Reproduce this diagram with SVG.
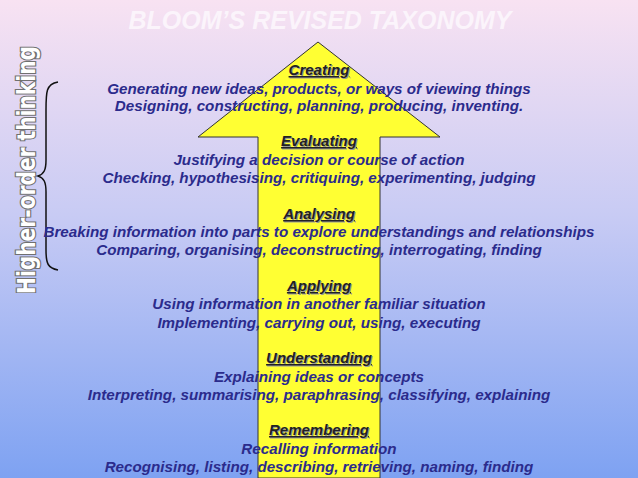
<svg xmlns="http://www.w3.org/2000/svg" width="638" height="478" viewBox="0 0 638 478">
<defs>
<linearGradient id="bg" x1="0" y1="0" x2="0" y2="1">
<stop offset="0" stop-color="#f8e2f2"/>
<stop offset="0.45" stop-color="#c8cbf4"/>
<stop offset="1" stop-color="#7ea2f2"/>
</linearGradient>
<style>
.t{font-family:"Liberation Sans",Arial,sans-serif;font-weight:bold;font-style:italic;font-size:15.2px;fill:#2b2b8c;text-anchor:middle}
.h{font-family:"Liberation Sans",Arial,sans-serif;font-weight:bold;font-style:italic;font-size:15px;fill:#222;text-anchor:middle;text-decoration:underline}
.hs{font-family:"Liberation Sans",Arial,sans-serif;font-weight:bold;font-style:italic;font-size:15px;fill:#9a9a9a;text-anchor:middle;text-decoration:underline}
</style>
</defs>
<rect width="638" height="478" fill="url(#bg)"/>
<text x="320" y="29" font-family="Liberation Sans,Arial,sans-serif" font-weight="bold" font-style="italic" font-size="25" fill="#fbf4fb" text-anchor="middle">BLOOM’S REVISED TAXONOMY</text>
<g id="arrow"><polygon points="318,42 440,137 380,137 380,478 258,478 258,137 198,137" fill="#ffff33" stroke="#333" stroke-width="1"/></g>
<g id="side">
<text transform="translate(35,170) rotate(-90)" font-family="DejaVu Sans,sans-serif" font-weight="bold" font-size="25" fill="#fff" stroke="#707070" stroke-width="2.4" paint-order="stroke" text-anchor="middle" textLength="248" lengthAdjust="spacingAndGlyphs">Higher-order thinking</text>
</g>
<g id="connectors"><path d="M58,82 C46,84 46,92 46,110 L46,160 C46,170 44,174 38,176 C44,178 46,182 46,192 L46,250 C46,264 48,268 58,270" fill="none" stroke="#111" stroke-width="1.5"/></g>
<g id="creating"><text class="hs" x="320" y="76">Creating</text><text class="h" x="319" y="75">Creating</text>
<text class="t" x="319" y="94">Generating new ideas, products, or ways of viewing things</text>
<text class="t" x="319" y="111">Designing, constructing, planning, producing, inventing.</text></g>
<g id="evaluating"><text class="hs" x="320" y="147">Evaluating</text><text class="h" x="319" y="146">Evaluating</text>
<text class="t" x="319" y="165">Justifying a decision or course of action</text>
<text class="t" x="319" y="183">Checking, hypothesising, critiquing, experimenting, judging</text></g>
<g id="analysing"><text class="hs" x="320" y="220">Analysing</text><text class="h" x="319" y="219">Analysing</text>
<text class="t" x="319" y="237">Breaking information into parts to explore understandings and relationships</text>
<text class="t" x="319" y="255">Comparing, organising, deconstructing, interrogating, finding</text></g>
<g id="applying"><text class="hs" x="320" y="292">Applying</text><text class="h" x="319" y="291">Applying</text>
<text class="t" x="319" y="309">Using information in another familiar situation</text>
<text class="t" x="319" y="328">Implementing, carrying out, using, executing</text></g>
<g id="understanding"><text class="hs" x="320" y="364">Understanding</text><text class="h" x="319" y="363">Understanding</text>
<text class="t" x="319" y="382">Explaining ideas or concepts</text>
<text class="t" x="319" y="400">Interpreting, summarising, paraphrasing, classifying, explaining</text></g>
<g id="remembering"><text class="hs" x="320" y="436">Remembering</text><text class="h" x="319" y="435">Remembering</text>
<text class="t" x="319" y="454">Recalling information</text>
<text class="t" x="319" y="472">Recognising, listing, describing, retrieving, naming, finding</text></g>
</svg>
